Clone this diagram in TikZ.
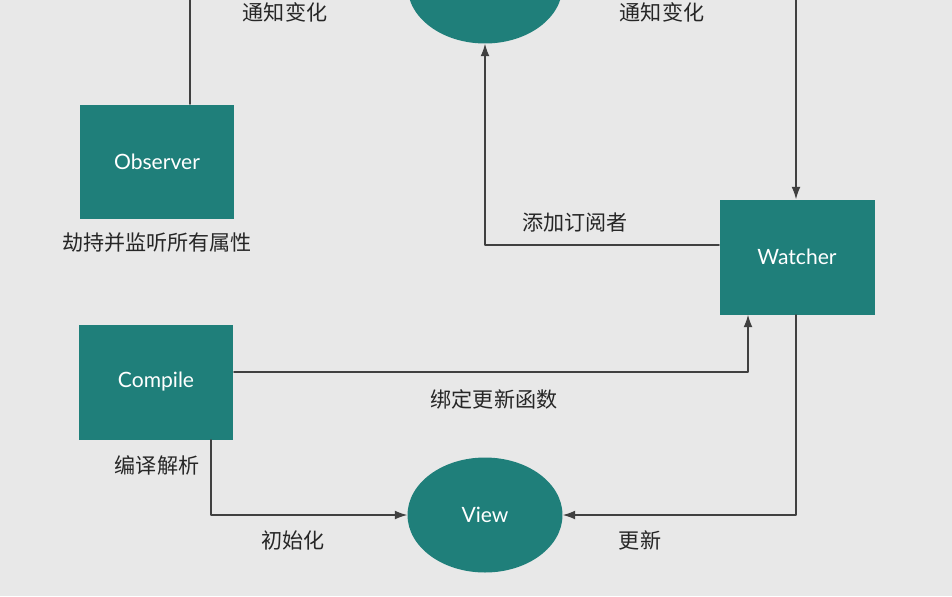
\documentclass[tikz,border=0pt]{standalone}
\usepackage{fontspec}
\setmainfont{Lato}
\newfontfamily\cjk{Noto Sans CJK SC}
\usetikzlibrary{shapes.geometric,arrows.meta}
\definecolor{boxteal}{HTML}{1F7F7A}
\definecolor{bg}{HTML}{E8E8E8}
\tikzset{
  box/.style={fill=boxteal, text=white, minimum width=3.1cm, minimum height=2.3cm, inner sep=0pt, font=\large},
  oval/.style={ellipse, fill=boxteal, text=white, minimum width=3.1cm, minimum height=2.3cm, inner sep=0pt, font=\large},
  lbl/.style={font=\cjk\large, text=black!85},
  conn/.style={draw=black!75, line width=0.6pt, -{Latex[length=7pt,width=5pt]}}
}
\begin{document}
\begin{tikzpicture}[x=0.02cm, y=-0.02cm, line cap = round, line join = round]
	% Background
	\fill[bg] (0,0) rectangle (952,596);
	\useasboundingbox (0,0) rectangle (952,596);
	\clip (0,0) rectangle (952,596);
	
	% Nodes
	\node[oval] (dep) at (485,-14) {};
	\node[box] (observer) at (157,162) {Observer};
	\node[box] (watcher) at (797,257) {Watcher};
	\node[box] (compile) at (156,382) {Compile};
	\node[oval] (view) at (485,515) {View};
	\coordinate (obstop) at (190,-20);
	\coordinate (wtop) at (796,-20);
	\coordinate (addrow) at (0,245);
	\coordinate (bindrow) at (0,372);
	\coordinate (bindcol) at (748,0);
	\coordinate (initcol) at (211,0);
	\coordinate (updcol) at (796,0);
	
	% Connectors
	\draw[draw=black!75, line width=0.6pt] (observer.north -| obstop) -- (obstop);
	\draw[conn] (wtop) -- (wtop |- watcher.north);
	\draw[conn] (watcher.west |- addrow) -| (dep.south);
	\draw[conn] (compile.east |- bindrow) -| (bindcol |- watcher.south);
	\draw[conn] (initcol |- compile.south) |- (view.west);
	\draw[conn] (updcol |- watcher.south) |- (view.east);
	
	% Labels
	\node[lbl] at (285,12) {通知变化};
	\node[lbl] at (662,12) {通知变化};
	\node[lbl] at (157,243) {劫持并监听所有属性};
	\node[lbl] at (575,222) {添加订阅者};
	\node[lbl] at (494,399) {绑定更新函数};
	\node[lbl] at (157,465) {编译解析};
	\node[lbl] at (293,540) {初始化};
	\node[lbl] at (640,540) {更新};
\end{tikzpicture}
\end{document}
